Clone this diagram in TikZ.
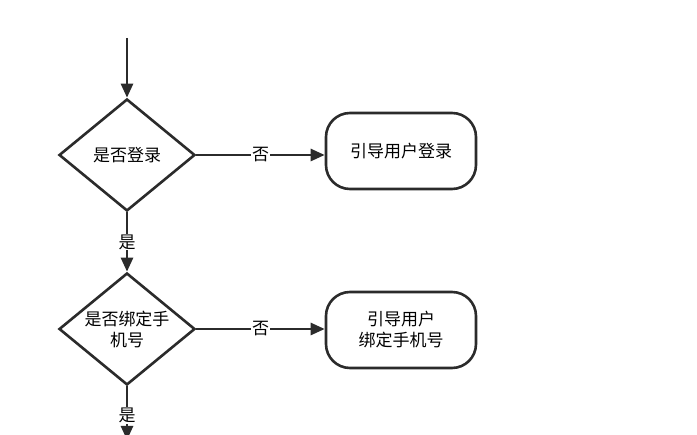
\documentclass[tikz,border=0pt]{standalone}
\usepackage{fontspec}
\setmainfont{Noto Sans CJK SC}
\usetikzlibrary{arrows.meta,shapes.geometric,positioning}
\definecolor{lineGray}{HTML}{2b2b2b}

\begin{document}
\begin{tikzpicture}[x=1pt, y=1pt, -{Triangle[length=14pt,width=12pt]}, line width=2.6pt, draw=lineGray,
        font=\fontsize{17}{21}\selectfont]
        \tikzset{
           decision/.style={
                        diamond,
                        aspect=1.22,
                        draw=lineGray,
                        line width=2.6pt,
                        fill=white,
                        inner sep=0pt,
                        minimum width=136pt,
                        minimum height=112pt,
                        align=center,
                        text=black
                       },
           terminal/.style={
                        rectangle,
                        rounded corners=24pt,
                        draw=lineGray,
                        line width=2.6pt,
                        fill=white,
                        minimum width=150pt,
                        minimum height=76pt,
                        align=center,
                        text=black
                       },
           answer/.style={
                        fill=white,
                        inner sep=1pt,
                        text=black
                       },
                 };
        \useasboundingbox (0,0) rectangle (697,-435);
    %--------------------
        \coordinate (start) at (127,-38);
        \node[decision] (loginCheck)  at (127,-155) {是否登录};
        \node[terminal] (guideLogin)  at (401,-151) {引导用户登录};

        \node[decision] (phoneCheck)  at (127,-329) {是否绑定手\\机号};
        \node[terminal] (guidePhone)  at (401,-330) {引导用户\\绑定手机号};
        \coordinate (finish) at (127,-440);
    %--------------------
        \draw (start)      -- (loginCheck);
        \draw (loginCheck) -- node[answer] {否} (loginCheck -| guideLogin.west);
        \draw (loginCheck) -- node[answer] {是} (phoneCheck);
        \draw (phoneCheck) -- node[answer] {否} (phoneCheck -| guidePhone.west);
        \draw (phoneCheck) -- node[answer, pos=0.55] {是} (finish);
\end{tikzpicture}
\end{document}
